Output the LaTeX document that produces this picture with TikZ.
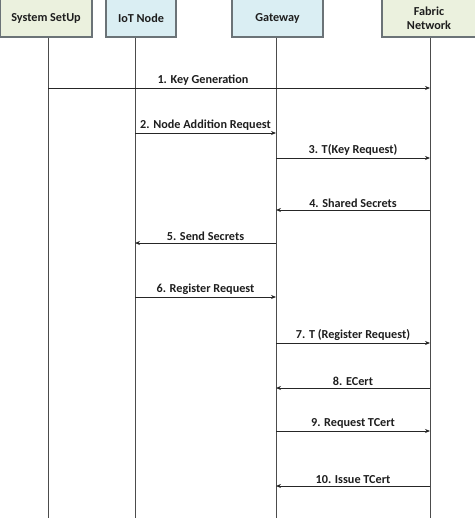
\documentclass[tikz,border=0pt]{standalone}
\usepackage{fontspec}
\setmainfont{Carlito}
\usetikzlibrary{arrows.meta}
\definecolor{boxgreen}{HTML}{EBF1DE}
\definecolor{boxblue}{HTML}{DAEEF3}
\definecolor{boxline}{HTML}{6B7377}
\definecolor{txt}{HTML}{1E1E1E}
\tikzset{
  actor/.style={draw=boxline, line width=1.2pt, minimum height=38pt, inner sep=0pt, align=center,
    font=\bfseries\fontsize{12.2}{14}\selectfont, text=txt},
  life/.style={draw=black!70, line width=0.7pt},
  msg/.style={draw=black!85, line width=0.8pt, -{Stealth[length=5pt,width=4pt]}},
  lbl/.style={above, inner sep=2pt, font=\bfseries\fontsize{12.2}{14}\selectfont, text=txt},
}
\begin{document}
\begin{tikzpicture}[x=1pt,y=-1pt]
\useasboundingbox (0,0) rectangle (474,521);
\node[actor, fill=boxgreen, minimum width=92pt] (ss) at (46,18) {System SetUp};
\node[actor, fill=boxblue, minimum width=70pt] (iot) at (141,18) {IoT Node};
\node[actor, fill=boxblue, minimum width=91pt] (gw) at (277.5,18) {Gateway};
\node[actor, fill=boxgreen, minimum width=94pt] (fn) at (429,18) {Fabric\\Network};
\coordinate (bot) at (0,518);
\coordinate (lss) at (48,0);
\coordinate (liot) at (135,0);
\coordinate (lgw) at (276,0);
\coordinate (lfn) at (430,0);
\draw[life] (lss |- ss.south) -- (lss |- bot);
\draw[life] (liot |- iot.south) -- (liot |- bot);
\draw[life] (lgw |- gw.south) -- (lgw |- bot);
\draw[life] (lfn |- fn.south) -- (lfn |- bot);
\foreach \n/\y in {1/88,2/133,3/158,4/210,5/243,6/297,7/343,8/388,9/431,10/486}
  \coordinate (m\n) at (0,\y);
\draw[msg] (lss |- m1) -- (lfn |- m1);
\node[lbl] (t1) at (203,88) {1. Key Generation};
\draw[msg] (liot |- m2) -- node[lbl] (t2) {2. Node Addition Request} (lgw |- m2);
\draw[msg] (lgw |- m3) -- node[lbl] (t3) {3. T(Key Request)} (lfn |- m3);
\draw[msg] (lfn |- m4) -- node[lbl] (t4) {4. Shared Secrets} (lgw |- m4);
\draw[msg] (lgw |- m5) -- node[lbl] (t5) {5. Send Secrets} (liot |- m5);
\draw[msg] (liot |- m6) -- node[lbl] (t6) {6. Register Request} (lgw |- m6);
\draw[msg] (lgw |- m7) -- node[lbl] (t7) {7. T (Register Request)} (lfn |- m7);
\draw[msg] (lfn |- m8) -- node[lbl] (t8) {8. ECert} (lgw |- m8);
\draw[msg] (lgw |- m9) -- node[lbl] (t9) {9. Request TCert} (lfn |- m9);
\draw[msg] (lfn |- m10) -- node[lbl] (t10) {10. Issue TCert} (lgw |- m10);
\end{tikzpicture}
\end{document}
